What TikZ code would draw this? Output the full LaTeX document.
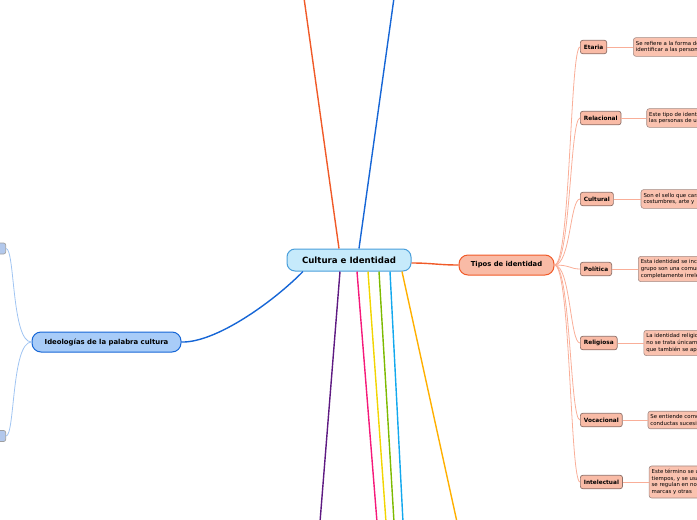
\documentclass[tikz,border=0pt]{standalone}
\usepackage{fontspec}
\setmainfont{DejaVu Sans}
\usetikzlibrary{positioning}

\definecolor{rootfill}{HTML}{C6EAFB}
\definecolor{rootline}{HTML}{4A9FDB}
\definecolor{tiposline}{HTML}{F05A28}
\definecolor{tiposfill}{HTML}{F9BBA6}
\definecolor{kidline}{HTML}{8C6E66}
\definecolor{twigcol}{HTML}{F9AE98}
\definecolor{ideofill}{HTML}{A8CCF8}
\definecolor{ideoline}{HTML}{1666D6}
\definecolor{ideotwig}{HTML}{A0C4F2}
\definecolor{leaffill}{HTML}{B2C8EC}
\definecolor{purpleb}{HTML}{5E1A82}
\definecolor{pinkb}{HTML}{F5197A}
\definecolor{yellowb}{HTML}{F2D500}
\definecolor{greenb}{HTML}{7DBA00}
\definecolor{cyanb}{HTML}{12A8EE}
\definecolor{orangeb}{HTML}{FFB000}

\begin{document}
\begin{tikzpicture}[
  x=1pt, y=-1pt,
  root/.style={draw=rootline, fill=rootfill, rounded corners=8pt, line width=1pt, minimum width=124pt, minimum height=22pt, font=\fontsize{8.6}{10}\selectfont\bfseries},
  main/.style={draw=tiposline, fill=tiposfill, rounded corners=9pt, line width=1pt, minimum width=95pt, minimum height=20pt, font=\fontsize{6.8}{8}\selectfont\bfseries},
  ideo/.style={draw=ideoline, fill=ideofill, rounded corners=9pt, line width=1pt, minimum width=149pt, minimum height=20pt, font=\fontsize{6.9}{8}\selectfont\bfseries},
  kid/.style={draw=kidline, fill=tiposfill, rounded corners=2.5pt, line width=0.7pt, minimum height=13.5pt, inner xsep=3.5pt, font=\fontsize{5.8}{7}\selectfont\bfseries},
  note/.style={draw=kidline!80, fill=tiposfill!90, rounded corners=2.5pt, line width=0.6pt, align=left, inner xsep=2.5pt, inner ysep=3.4pt, font=\fontsize{5.4}{6.6}\selectfont},
  leaf/.style={draw=gray!75, fill=leaffill, rounded corners=2pt, line width=0.7pt, minimum width=30pt, minimum height=11pt},
  twig/.style={draw=twigcol, line width=0.8pt},
  branch/.style={line width=1.4pt},
]
\path[use as bounding box, clip] (0,0) rectangle (697,520);

% centre and the two open branches
\node[root] (root) at (349,260) {Cultura e Identidad};
\node[main] (tipos) at (506.5,265) {Tipos de identidad};
\node[ideo] (ideo) at (106.5,342) {Ideologías de la palabra cultura};

\draw[branch, tiposline] ([yshift=-3pt]root.east) .. controls +(20,0) and +(-20,0) .. (tipos.west);
\draw[branch, ideoline] ([xshift=-46pt]root.south) .. controls (272,303) and (215,343) .. (ideo.east);

% tipos de identidad: kids and their notes
\node[kid, anchor=west] (etaria) at (580,47) {Etaria};
\node[kid, anchor=west] (relacional) at (580,118) {Relacional};
\node[kid, anchor=west] (cultural) at (580,199) {Cultural};
\node[kid, anchor=west] (politica) at (580,269) {Política};
\node[kid, anchor=west] (religiosa) at (580,343) {Religiosa};
\node[kid, anchor=west] (vocacional) at (580,420) {Vocacional};
\node[kid, anchor=west] (intelectual) at (580,482) {Intelectual};

\node[note, right=26pt of etaria] (etaria-n) {Se refiere a la forma de\\identificar a las personas};
\node[note, right=25pt of relacional] (relacional-n) {Este tipo de identidad\\las personas de un};
\node[note, right=27pt of cultural] (cultural-n) {Son el sello que caracteriza\\costumbres, arte y};
\node[note, right=26pt of politica] (politica-n) {Esta identidad se inclina\\grupo son una comunidad\\completamente irrelevante};
\node[note, right=26pt of religiosa] (religiosa-n) {La identidad religiosa\\no se trata únicamente\\que también se aplica};
\node[note, right=25pt of vocacional] (vocacional-n) {Se entiende como\\conductas sucesivas};
\node[note, right=26pt of intelectual] (intelectual-n) {Este término se usa\\tiempos, y se usa\\se regulan en normas\\marcas y otras};

\foreach \k in {etaria,relacional,cultural,politica,religiosa,vocacional,intelectual} {
  \draw[twig] (tipos.east) .. controls +(16,0) and +(-10,0) .. (\k.west);
  \draw[twig] (\k.east) -- (\k-n.west);
}

% ideologias: the two leaves at the left edge
\node[leaf, anchor=east] (ideoA) at (6,248.5) {};
\node[leaf, anchor=east] (ideoB) at (6,436) {};
\draw[ideotwig, line width=0.8pt] (ideo.west) .. controls +(-20,0) and +(9,0) .. (ideoA.east);
\draw[ideotwig, line width=0.8pt] (ideo.west) .. controls +(-20,0) and +(9,0) .. (ideoB.east);

% branches running off the page
\coordinate (upA) at (304,-2);
\coordinate (upB) at (394,-2);
\coordinate (dnA) at (320,522);
\coordinate (dnB) at (377,522);
\coordinate (dnC) at (386,522);
\coordinate (dnD) at (394,522);
\coordinate (dnE) at (403,522);
\coordinate (dnF) at (457,522);
\draw[branch, tiposline] ([xshift=-10pt]root.north) -- (upA);
\draw[branch, ideoline] ([xshift=10pt]root.north) -- (upB);
\draw[branch, purpleb] ([xshift=-9pt]root.south) -- (dnA);
\draw[branch, pinkb] ([xshift=8pt]root.south) -- (dnB);
\draw[branch, yellowb] ([xshift=19pt]root.south) -- (dnC);
\draw[branch, greenb] ([xshift=30pt]root.south) -- (dnD);
\draw[branch, cyanb] ([xshift=41pt]root.south) -- (dnE);
\draw[branch, orangeb] ([xshift=53pt]root.south) -- (dnF);
\end{tikzpicture}
\end{document}
